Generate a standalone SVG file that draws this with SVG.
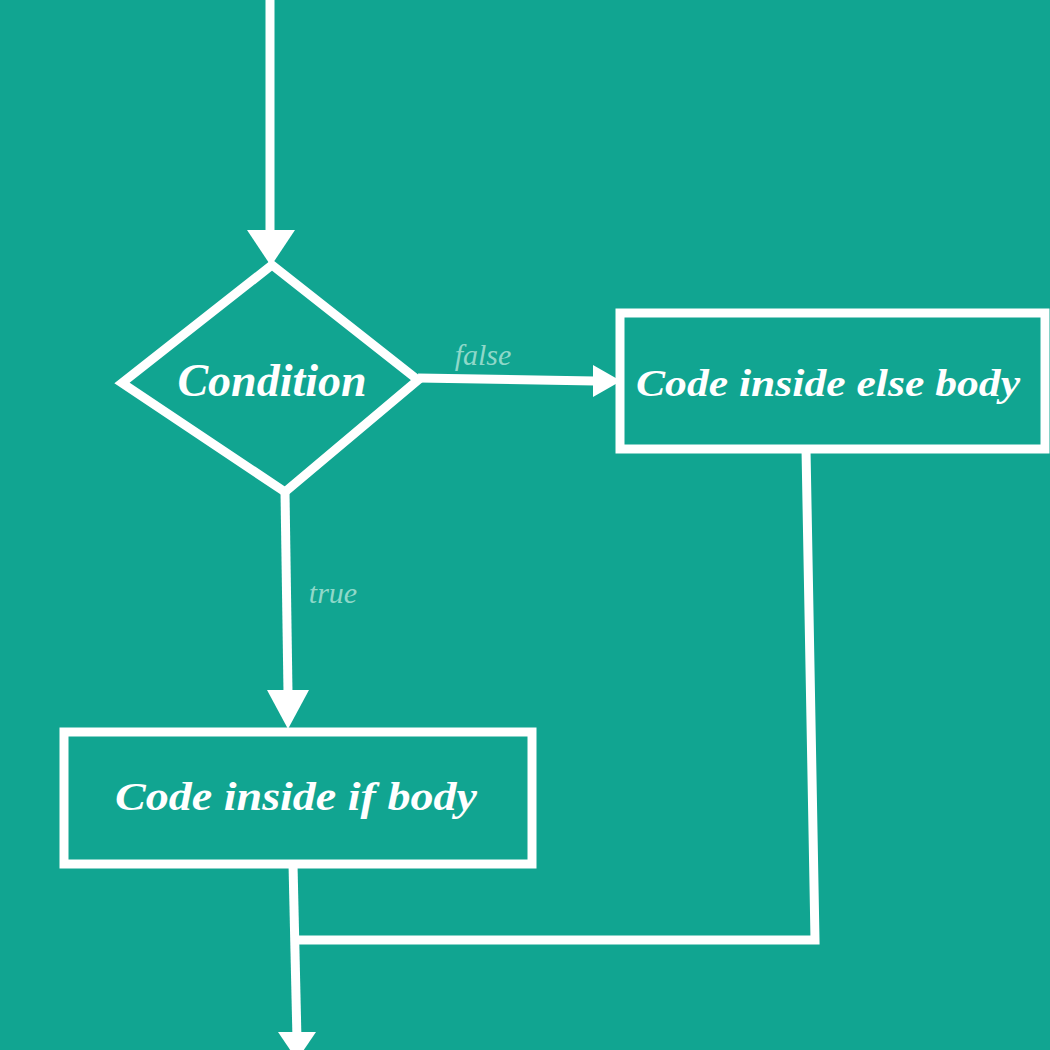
<svg xmlns="http://www.w3.org/2000/svg" width="1050" height="1050" viewBox="0 0 1050 1050">
<style>
.ln{stroke:#fff;stroke-width:9;fill:none}
.box{stroke:#fff;stroke-width:9;fill:none}
.t{fill:#fff;font-family:"Liberation Serif",serif;font-style:italic;font-weight:bold;text-anchor:middle}
.lab{fill:#8fd8c9;font-family:"Liberation Serif",serif;font-style:italic;font-size:30px;text-anchor:middle}
.ah{fill:#fff}
</style>
<rect width="1050" height="1050" fill="#11a591"/>
<g id="connectors">
<line class="ln" x1="270" y1="0" x2="270" y2="235"/>
<polygon class="ah" points="247,230 295,230 271,266"/>
<line class="ln" x1="418" y1="378" x2="595" y2="381"/>
<polygon class="ah" points="593,365 593,397 621,381"/>
<line class="ln" x1="285" y1="492" x2="288" y2="692"/>
<polygon class="ah" points="267,690 309,690 288,729"/>
<polyline class="ln" points="806,449 815,940 297,940"/>
<line class="ln" x1="293" y1="864" x2="297" y2="1040"/>
<polygon class="ah" points="278,1032 316,1032 297,1060"/>
<text class="lab" x="483" y="365">false</text>
<text class="lab" x="333" y="603">true</text>
</g>
<g id="condition">
<polygon class="box" stroke-width="8" points="272,265 418,380 285,492 122,383"/>
<text class="t" x="272" y="396" font-size="46" font-weight="normal">Condition</text>
</g>
<g id="else">
<rect class="box" x="620" y="313" width="425" height="136"/>
<text class="t" x="828" y="396" font-size="38" textLength="384" lengthAdjust="spacingAndGlyphs">Code inside else body</text>
</g>
<g id="if">
<rect class="box" x="64" y="732" width="468" height="132"/>
<text class="t" x="296" y="810" font-size="40" textLength="362" lengthAdjust="spacingAndGlyphs">Code inside if body</text>
</g>
</svg>
